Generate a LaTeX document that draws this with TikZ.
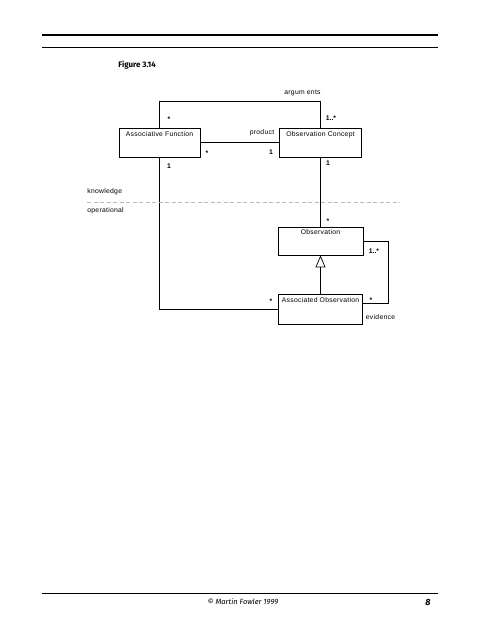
\documentclass[tikz,border=0pt]{standalone}
\usepackage{fontspec}
\setmainfont{Liberation Sans}
\newfontfamily\headfont{Fira Sans}
\usetikzlibrary{arrows.meta}
\tikzset{cls/.style={draw, line width=0.7pt, inner sep=0pt},
  txt/.style={font=\fontsize{6.8}{8}\selectfont\addfontfeature{LetterSpace=4}, inner sep=0pt},
  mult/.style={font=\fontsize{6.8}{8}\selectfont\bfseries, inner sep=0pt},
  >/.tip={Triangle[open, length=12pt, width=10pt, line width=0.7pt]}}

\begin{document}
\begin{tikzpicture}[x=1pt, y=-1pt, line width=0.7pt]
\useasboundingbox (0,0) rectangle (495,640);
\draw[line width=2pt] (42,35) -- (438,35);
\draw[line width=0.8pt] (42,47) -- (438,47);
\node[anchor=west, inner sep=0pt] (fig) at (118,65) {\headfont\bfseries\fontsize{8}{9}\selectfont Figure 3.14};

\node[cls, minimum width=81pt, minimum height=29pt, label={[txt, anchor=north, yshift=-4pt]north:Associative Function}] (af) at (159.5,142.5) {};
\node[cls, minimum width=82pt, minimum height=29pt, label={[txt, anchor=north, yshift=-4pt]north:Observation Concept}] (oc) at (320.5,142.5) {};
\node[cls, minimum width=85pt, minimum height=28pt, label={[txt, anchor=north, yshift=-3pt]north:Observation}] (obs) at (320.5,241) {};
\node[cls, minimum width=84pt, minimum height=30pt, label={[txt, anchor=north, yshift=-4pt]north:Associated Observation}] (aob) at (320.5,309) {};

\draw (af.north) -- ++(0,-26) -| (oc.north);
\draw (af) -- (oc);
\draw (af.south) |- (aob.west);
\draw (oc.south) -- (obs.north);
\draw[->] (aob.north) -- (obs.south);
\draw (obs.east) -- ++(25,0) |- ([yshift=6pt]aob.east);

\node[txt] (args) at (302.5,93) {argum ents};
\node[txt] (prod) at (262,133) {product};
\node[txt] (evid) at (380.5,317) {evidence};
\node[mult] (m-af-args) at (169,119) {*};
\node[mult] (m-oc-args) at (331,118) {1..*};
\node[mult] (m-af-prod) at (207,153) {*};
\node[mult] (m-oc-prod) at (271,152) {1};
\node[mult] (m-af-aob) at (169,166) {1};
\node[mult] (m-oc-obs) at (328,163) {1};
\node[mult] (m-obs-oc) at (328,221) {*};
\node[mult] (m-obs-evid) at (374,251) {1..*};
\node[mult] (m-aob-af) at (271,301) {*};
\node[mult] (m-aob-evid) at (371,300) {*};

\coordinate (split-w) at (87,202);
\coordinate (split-e) at (400,202);
\draw[gray!55, line width=0.6pt, dash pattern=on 4pt off 2.5pt] (split-w) -- (split-e);
\node[txt, anchor=west] (know) at (87,192) {knowledge};
\node[txt, anchor=west] (oper) at (87,211) {operational};

\draw[line width=0.8pt] (42,593) -- (438,593);
\node[inner sep=0pt] (copy) at (243,602) {\headfont\itshape\fontsize{7.5}{8}\selectfont \textcopyright{} Martin Fowler 1999};
\node[inner sep=0pt] (page) at (428,602) {\headfont\bfseries\itshape\fontsize{9}{10}\selectfont 8};
\end{tikzpicture}
\end{document}
